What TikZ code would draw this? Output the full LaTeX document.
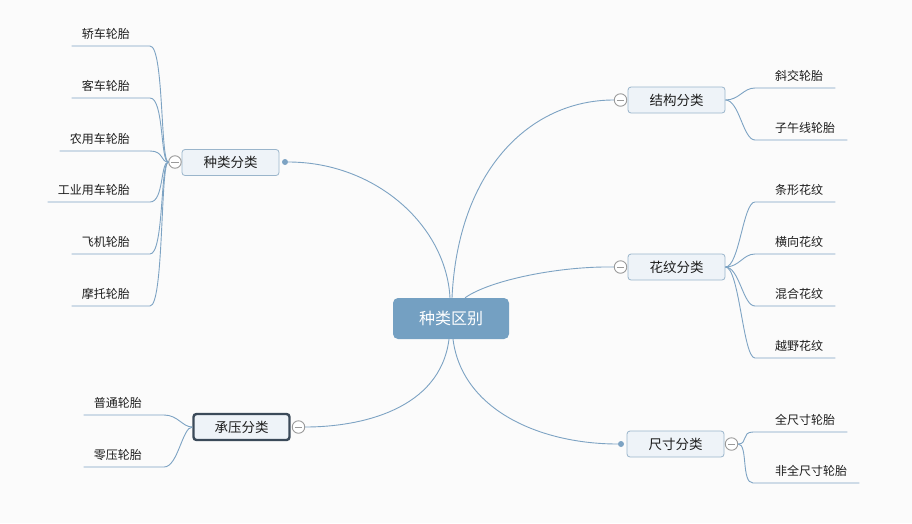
\documentclass[tikz,border=0pt]{standalone}
\usepackage{fontspec}
\setmainfont{Noto Sans CJK SC}
\usetikzlibrary{positioning,calc}
\definecolor{cBg}{HTML}{FBFBFB}
\definecolor{cLink}{HTML}{7DA3C3}
\definecolor{cRootF}{HTML}{74A0C2}
\definecolor{cBranchF}{HTML}{EEF3F8}
\definecolor{cBranchD}{HTML}{9AB5CB}
\definecolor{cDarkD}{HTML}{3B4A59}
\definecolor{cFoldD}{HTML}{9A9A9A}
\definecolor{cTextT}{HTML}{1E1E1E}
\tikzset{
  root/.style   = {rounded corners=5pt, fill=cRootF, text=white, minimum width=116pt,
                   minimum height=41pt, font=\fontsize{16}{18}\selectfont},
  branch/.style = {rounded corners=3pt, draw=cBranchD, line width=0.8pt, fill=cBranchF,
                   text=cTextT, minimum width=97pt, minimum height=26pt,
                   font=\fontsize{13.5}{15}\selectfont},
  bold/.style   = {branch, draw=cDarkD, line width=2.4pt, minimum width=96pt},
  leaf/.style   = {inner sep=0pt, text=cTextT, font=\fontsize{12}{14}\selectfont},
  fold/.style   = {circle, draw=cFoldD, fill=white, line width=0.9pt, minimum size=12.5pt,
                   inner sep=0pt, path picture={\draw[cFoldD, line width=0.9pt]
                   ([xshift=-3.6pt]path picture bounding box.center) --
                   ([xshift=3.6pt]path picture bounding box.center);}},
  dot/.style    = {circle, fill=cLink, minimum size=6pt, inner sep=0pt},
  link/.style   = {cLink, line width=0.9pt},
}
\begin{document}
\begin{tikzpicture}[x=1pt, y=-1pt]
  \fill[cBg] (0,0) rectangle (912,523);
  % centre and branches
  \node[root] (root) at (451,318.5) {种类区别};
  \node[branch] (zl) at (230.5,162.5) {种类分类};
  \node[fold] (zlFold) at (175,162) {};
  \node[dot] (zlDot) at (285,162) {};
  \node[branch] (jg) at (676.5,100) {结构分类};
  \node[fold] (jgFold) at (620.5,100) {};
  \node[branch] (hw) at (676.5,267) {花纹分类};
  \node[fold] (hwFold) at (620.5,267) {};
  \node[branch] (cc) at (675.5,444) {尺寸分类};
  \node[dot] (ccDot) at (621,444) {};
  \node[fold] (ccFold) at (731.5,444) {};
  \node[bold] (cy) at (241.5,427) {承压分类};
  \node[fold] (cyFold) at (298.5,427) {};
  \draw[link] (zlDot.east) .. controls (375,162) and (446,225) .. ([xshift=-1pt]root.north);
  \draw[link] ([xshift=1pt]root.north) .. controls (458,170) and (530,100) .. (jgFold.west);
  \draw[link] ([xshift=14pt]root.north) .. controls (490,280) and (560,266) .. (hwFold.west);
  \draw[link] ([xshift=2pt]root.south) .. controls (462,410) and (540,444) .. (ccDot.west);
  \draw[link] ([xshift=-2pt]root.south) .. controls (440,410) and (360,427) .. (cyFold.east);
  % leaves of 种类分类
  \node[leaf, anchor=east] (s1) at (130,34) {轿车轮胎};
  \node[leaf, anchor=east] (s2) at (130,86) {客车轮胎};
  \node[leaf, anchor=east] (s3) at (130,139) {农用车轮胎};
  \node[leaf, anchor=east] (s4) at (130,190) {工业用车轮胎};
  \node[leaf, anchor=east] (s5) at (130,242) {飞机轮胎};
  \node[leaf, anchor=east] (s6) at (130,294) {摩托轮胎};
  \draw[link] (zlFold.west) .. controls +(-8,0) and +(14,0) .. ([shift={(20pt,-12pt)}]s1.east) -- ([shift={(-10pt,-12pt)}]s1.west);
  \draw[link] (zlFold.west) .. controls +(-8,0) and +(14,0) .. ([shift={(20pt,-12pt)}]s2.east) -- ([shift={(-10pt,-12pt)}]s2.west);
  \draw[link] (zlFold.west) .. controls +(-8,0) and +(14,0) .. ([shift={(20pt,-12pt)}]s3.east) -- ([shift={(-10pt,-12pt)}]s3.west);
  \draw[link] (zlFold.west) .. controls +(-8,0) and +(14,0) .. ([shift={(20pt,-12pt)}]s4.east) -- ([shift={(-10pt,-12pt)}]s4.west);
  \draw[link] (zlFold.west) .. controls +(-8,0) and +(14,0) .. ([shift={(20pt,-12pt)}]s5.east) -- ([shift={(-10pt,-12pt)}]s5.west);
  \draw[link] (zlFold.west) .. controls +(-8,0) and +(14,0) .. ([shift={(20pt,-12pt)}]s6.east) -- ([shift={(-10pt,-12pt)}]s6.west);
  % leaves of 承压分类
  \node[leaf, anchor=east] (p1) at (142,403) {普通轮胎};
  \node[leaf, anchor=east] (p2) at (142,455) {零压轮胎};
  \draw[link] (cy.west) .. controls +(-10,0) and +(14,0) .. ([shift={(22pt,-12pt)}]p1.east) -- ([shift={(-10pt,-12pt)}]p1.west);
  \draw[link] (cy.west) .. controls +(-10,0) and +(14,0) .. ([shift={(22pt,-12pt)}]p2.east) -- ([shift={(-10pt,-12pt)}]p2.west);
  % leaves of 结构分类
  \node[leaf, anchor=west] (j1) at (775,76) {斜交轮胎};
  \node[leaf, anchor=west] (j2) at (775,128) {子午线轮胎};
  \draw[link] (jg.east) .. controls +(14,0) and +(-12,0) .. ([shift={(-20pt,-12pt)}]j1.west) -- ([shift={(12pt,-12pt)}]j1.east);
  \draw[link] (jg.east) .. controls +(14,0) and +(-12,0) .. ([shift={(-20pt,-12pt)}]j2.west) -- ([shift={(12pt,-12pt)}]j2.east);
  % leaves of 花纹分类
  \node[leaf, anchor=west] (h1) at (775,190) {条形花纹};
  \node[leaf, anchor=west] (h2) at (775,242) {横向花纹};
  \node[leaf, anchor=west] (h3) at (775,294) {混合花纹};
  \node[leaf, anchor=west] (h4) at (775,346) {越野花纹};
  \draw[link] (hw.east) .. controls +(14,0) and +(-12,0) .. ([shift={(-20pt,-12pt)}]h1.west) -- ([shift={(12pt,-12pt)}]h1.east);
  \draw[link] (hw.east) .. controls +(14,0) and +(-12,0) .. ([shift={(-20pt,-12pt)}]h2.west) -- ([shift={(12pt,-12pt)}]h2.east);
  \draw[link] (hw.east) .. controls +(14,0) and +(-12,0) .. ([shift={(-20pt,-12pt)}]h3.west) -- ([shift={(12pt,-12pt)}]h3.east);
  \draw[link] (hw.east) .. controls +(14,0) and +(-12,0) .. ([shift={(-20pt,-12pt)}]h4.west) -- ([shift={(12pt,-12pt)}]h4.east);
  % leaves of 尺寸分类
  \node[leaf, anchor=west] (c1) at (775,420) {全尺寸轮胎};
  \node[leaf, anchor=west] (c2) at (775,471) {非全尺寸轮胎};
  \draw[link] (ccFold.east) .. controls +(10,0) and +(-12,0) .. ([shift={(-22pt,-12pt)}]c1.west) -- ([shift={(12pt,-12pt)}]c1.east);
  \draw[link] (ccFold.east) .. controls +(10,0) and +(-12,0) .. ([shift={(-22pt,-12pt)}]c2.west) -- ([shift={(12pt,-12pt)}]c2.east);
\end{tikzpicture}
\end{document}
